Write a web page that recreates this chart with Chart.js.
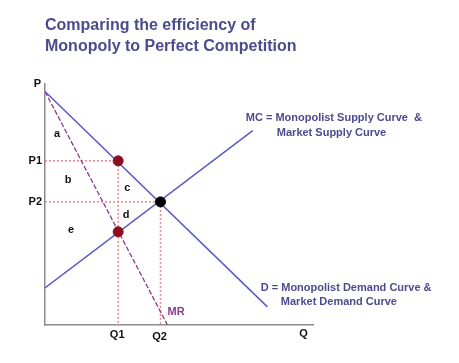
<!DOCTYPE html>
<html>
<head>
<meta charset="utf-8">
<script src="https://cdn.jsdelivr.net/npm/chart.js@4.4.0/dist/chart.umd.min.js"></script>
<style>
  html, body { margin: 0; padding: 0; background: #fff; }
  #wrap { width: 459px; height: 363px; position: relative; }
</style>
</head>
<body>
<div id="wrap"><canvas id="grafico"></canvas></div>
<script>
// Curvas (Q, P)
const demandaQ = [0, 83];
const demandaP = [96.7, 7.5];
const imgQ = [0, 45.7];
const imgP = [96.7, 0];
const cmgQ = [0, 77.5];
const cmgP = [15.4, 80.5];

// Equilibrios
const cantidades = [27.3, 43.1];
const etiquetasQ = ["Q1", "Q2"];
const precios = [68.0, 51.0];
const etiquetasP = ["P1", "P2"];
const cmgEnQ1 = 38.6;

// Areas
const areas = ["a", "b", "c", "d", "e"];

const azul = "#5a5ac4";
const morado = "#8e3a8e";
const punteado = "#e08a8a";
const textoAzul = "#4b4b8e";

function linea(qs, ps) {
  return qs.map((q, i) => ({ x: q, y: ps[i] }));
}

const textos = {
  id: "textos",
  afterDatasetsDraw(chart) {
    const ctx = chart.ctx;
    const x = chart.scales.x, y = chart.scales.y;
    const px = v => x.getPixelForValue(v);
    const py = v => y.getPixelForValue(v);
    ctx.save();
    ctx.textBaseline = "middle";

    // etiquetas de ejes
    ctx.fillStyle = "#111";
    ctx.font = "bold 11px 'Liberation Sans', Arial, sans-serif";
    ctx.textAlign = "right";
    ctx.fillText("P", px(0) - 4, py(100));
    etiquetasP.forEach((t, i) => ctx.fillText(t, px(0) - 3, py(precios[i])));
    ctx.textAlign = "center";
    etiquetasQ.forEach((t, i) => ctx.fillText(t, px(cantidades[i]) - 1, py(0) + 10 + i * 2));
    ctx.fillText("Q", px(96.5), py(0) + 9);

    // areas
    const posAreas = [[4.5, 79.3], [8.6, 60.2], [30.7, 56.8], [30.3, 45.6], [9.7, 39.4]];
    areas.forEach((t, i) => ctx.fillText(t, px(posAreas[i][0]), py(posAreas[i][1])));

    // nombres de curvas
    ctx.textAlign = "left";
    ctx.fillStyle = morado;
    ctx.fillText("MR", px(45.7), py(5.4));
    ctx.fillStyle = textoAzul;
    ctx.fillText("MC = Monopolist Supply Curve  &", px(74.9), py(85.9));
    ctx.fillText("Market Supply Curve", px(86.5), py(79.7));
    ctx.fillText("D = Monopolist Demand Curve &", px(80.5), py(15.4));
    ctx.fillText("Market Demand Curve", px(88.0), py(9.5));
    ctx.restore();
  }
};

const guia = { borderColor: punteado, borderWidth: 1.5, borderDash: [2, 2], pointRadius: 0, showLine: true, order: 3 };

new Chart(document.getElementById("grafico"), {
  type: "scatter",
  data: {
    datasets: [
      Object.assign({ data: [{ x: 0, y: precios[0] }, { x: cantidades[0], y: precios[0] }] }, guia),
      Object.assign({ data: [{ x: 0, y: precios[1] }, { x: cantidades[1], y: precios[1] }] }, guia),
      Object.assign({ data: [{ x: cantidades[0], y: precios[0] }, { x: cantidades[0], y: 0 }] }, guia),
      Object.assign({ data: [{ x: cantidades[1], y: precios[1] }, { x: cantidades[1], y: 0 }] }, guia),
      { data: linea(demandaQ, demandaP), showLine: true, borderColor: azul, borderWidth: 1.5, pointRadius: 0, order: 2 },
      { data: linea(cmgQ, cmgP), showLine: true, borderColor: azul, borderWidth: 1.5, pointRadius: 0, order: 2 },
      { data: linea(imgQ, imgP), showLine: true, borderColor: morado, borderWidth: 1.3, borderDash: [5, 2], pointRadius: 0, order: 2 },
      {
        data: [{ x: cantidades[0], y: precios[0] }, { x: cantidades[0], y: cmgEnQ1 }],
        pointRadius: 5, pointBackgroundColor: "#8b0d1e", pointBorderColor: "#8b0d1e", order: 1
      },
      {
        data: [{ x: cantidades[1], y: precios[1] }],
        pointRadius: 5, pointBackgroundColor: "#000", pointBorderColor: "#000", order: 1
      }
    ]
  },
  options: {
    responsive: true,
    maintainAspectRatio: false,
    animation: false,
    layout: { padding: { left: 45, right: 146, top: 5, bottom: 38 } },
    plugins: {
      legend: { display: false },
      tooltip: { enabled: false },
      title: {
        display: true,
        align: "start",
        text: ["Comparing the efficiency of", "Monopoly to Perfect Competition"],
        color: textoAzul,
        font: { family: "'Liberation Sans', Arial, sans-serif", size: 16, weight: "bold", lineHeight: 1.3 },
        padding: { top: 10, bottom: 27 }
      }
    },
    scales: {
      x: {
        min: 0, max: 100,
        grid: { display: false, drawTicks: false },
        ticks: { display: false },
        border: { display: true, color: "#8c8c8c", width: 1.5 }
      },
      y: {
        min: 0, max: 100,
        grid: { display: false, drawTicks: false },
        ticks: { display: false },
        border: { display: true, color: "#8c8c8c", width: 1.5 }
      }
    }
  },
  plugins: [textos]
});
</script>
</body>
</html>
